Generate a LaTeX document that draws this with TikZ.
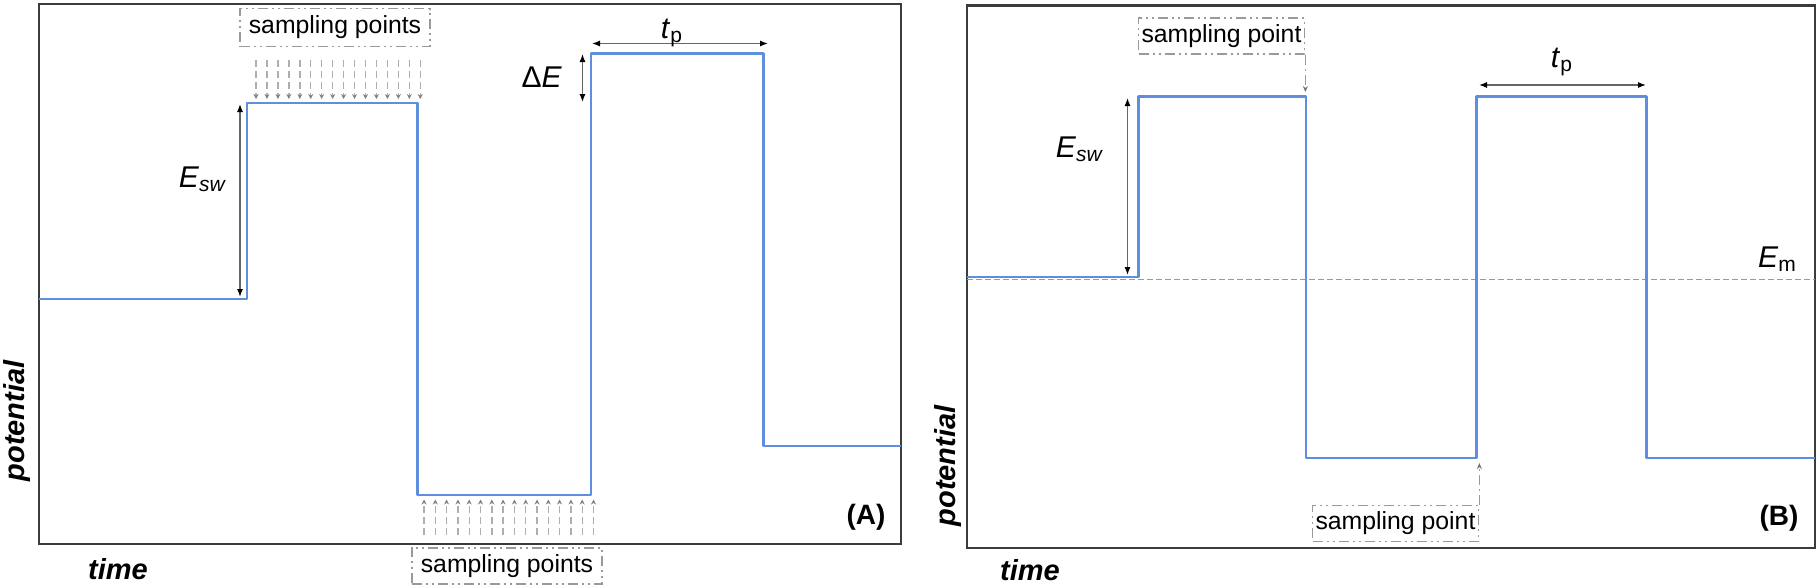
\documentclass[tikz,border=0pt]{standalone}
\usepackage{fontspec}
\setmainfont{Liberation Sans}
\usetikzlibrary{arrows.meta}
\begin{document}
\begin{tikzpicture}[x=0.5pt,y=-0.5pt,
  wave/.style={draw=waveBlue,line width=1.2pt,line join=round},
  panel/.style={draw=frameGray,line width=1.3pt},
  dimline/.style={draw=black!60,line width=0.6pt,{Latex[length=4pt,width=3pt,black]}-{Latex[length=4pt,width=3pt,black]}},
  sampbox/.style={draw=sampGray,line width=0.9pt,dash pattern=on 5pt off 2pt on 1pt off 2pt on 1pt off 2pt,inner ysep=0pt,font=\fontsize{12.4}{14}\selectfont},
  samptick/.style={draw=sampGray!80,line width=0.7pt,dash pattern=on 3.5pt off 2pt,-{Stealth[length=2.5pt,width=2.5pt,black!50]}},
  samplink/.style={draw=sampGray,line width=0.8pt,dash pattern=on 5pt off 2pt on 1pt off 2pt,-{Stealth[length=3pt,width=2.5pt,black!55]}},
  emline/.style={draw=sampGray,line width=0.8pt,dash pattern=on 3pt off 1.5pt},
  axlab/.style={font=\fontsize{14.5}{17}\selectfont\bfseries\itshape,inner sep=0.5pt},
  qty/.style={font=\fontsize{15}{18}\selectfont,anchor=base east},
  tag/.style={font=\fontsize{14}{17}\selectfont\bfseries}]
\definecolor{waveBlue}{HTML}{5E8EDC}
\definecolor{frameGray}{HTML}{3C3C3C}
\definecolor{sampGray}{HTML}{9A9A9A}
\useasboundingbox (0,0) rectangle (1820,585);

\node[sampbox,inner xsep=4.5pt,minimum height=19pt] (spAtop) at (335,27.5) {sampling points};
\node[sampbox,inner xsep=4.5pt,minimum height=18pt] (spAbot) at (507,566) {sampling points};
\draw[panel] (39,4) rectangle (901,544);
\draw[wave] (39,299) -- (247,299) -- (247,103) -- (417.5,103) -- (417.5,495)
  -- (591,495) -- (591,53.5) -- (763.5,53.5) -- (763.5,446) -- (901,446);
\foreach \i in {0,...,15} {
  \coordinate (tA\i) at (256+\i*10.95,60);
  \coordinate (hA\i) at (256+\i*10.95,99);
  \draw[samptick] (tA\i) -- (hA\i);
  \coordinate (tB\i) at (424+\i*11.3,535);
  \coordinate (hB\i) at (424+\i*11.3,499.5);
  \draw[samptick] (tB\i) -- (hB\i);
}
\coordinate (eswAlo) at (240,297);
\coordinate (eswAhi) at (240,104);
\draw[dimline] (eswAlo) -- (eswAhi);
\node[qty] (eswA) at (234,187) {\textit{E}\textsubscript{\textit{sw}}};
\coordinate (dEhi) at (582.5,54);
\coordinate (dElo) at (582.5,102);
\draw[dimline] (dEhi) -- (dElo);
\node[qty] (dE) at (569,87) {Δ\textit{E}};
\coordinate (tpAl) at (592,43.5);
\coordinate (tpAr) at (768,43.5);
\draw[dimline] (tpAl) -- (tpAr);
\node[qty,anchor=base] (tpA) at (672,38) {\textit{t}\textsubscript{p}};
\node[tag] (tagA) at (866,517) {(A)};
\node[axlab,rotate=90] (potA) at (17,421) {potential};
\node[axlab] (timeA) at (118,569) {time};

\draw[panel] (967,5.5) rectangle (1815,548);
\draw[emline] (967,279.5) -- (1815,279.5);
\draw[wave] (967,277) -- (1138.5,277) -- (1138.5,96.5) -- (1306,96.5) -- (1306,458)
  -- (1476.5,458) -- (1476.5,96.5) -- (1646.5,96.5) -- (1646.5,458) -- (1815,458);
\node[sampbox,inner xsep=1.5pt,minimum height=18pt] (spBtop) at (1221.5,36) {sampling point};
\node[sampbox,inner xsep=1.5pt,minimum height=18pt] (spBbot) at (1395.5,523.5) {sampling point};
\coordinate (ptBhi) at (1306,92);
\coordinate (ptBlo) at (1476,463);
\draw[samplink] (spBtop.south east) -- (spBtop.south east |- ptBhi);
\draw[samplink] (spBbot.north east) -- (spBbot.north east |- ptBlo);
\coordinate (eswBlo) at (1127.5,275);
\coordinate (eswBhi) at (1127.5,98);
\draw[dimline] (eswBlo) -- (eswBhi);
\node[qty] (eswB) at (1111,157) {\textit{E}\textsubscript{\textit{sw}}};
\coordinate (tpBl) at (1479,85);
\coordinate (tpBr) at (1646,85);
\draw[dimline] (tpBl) -- (tpBr);
\node[qty,anchor=base] (tpB) at (1562,67) {\textit{t}\textsubscript{p}};
\node[qty] (Em) at (1804,267) {\textit{E}\textsubscript{m}};
\node[tag] (tagB) at (1779,518) {(B)};
\node[axlab,rotate=90] (potB) at (948,466) {potential};
\node[axlab] (timeB) at (1030,570) {time};
\end{tikzpicture}
\end{document}
